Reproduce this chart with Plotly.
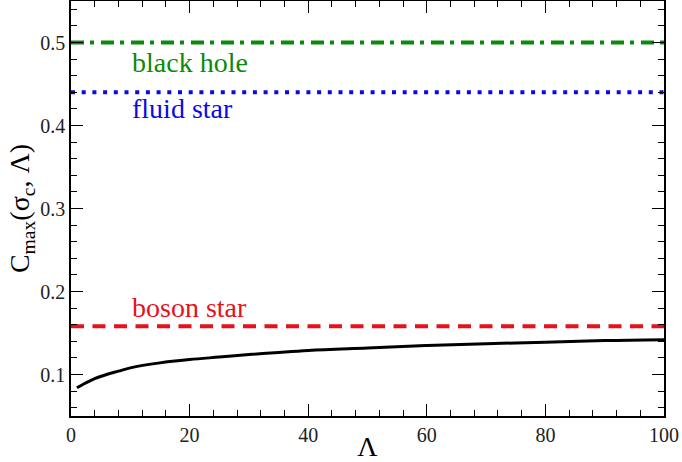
import plotly.graph_objects as go

# Data
lam = [1, 2, 4, 6, 8, 10, 15, 20, 25, 30, 40, 50, 60, 70, 80, 90, 100]
cmax = [0.084, 0.088, 0.095, 0.100, 0.104, 0.108, 0.114, 0.118, 0.121, 0.124,
        0.129, 0.132, 0.135, 0.137, 0.139, 0.141, 0.142]

x_span = [0, 100]
black_hole = 0.5
fluid_star = 0.44
boson_star = 0.158

labels = ["black hole", "fluid star", "boson star"]
label_y = [0.476, 0.421, 0.181]
label_x = 10

GREEN = "#0a8a0a"
BLUE = "#0a0ae6"
RED = "#e8101a"
SERIF = "'Liberation Serif', 'Times New Roman', 'DejaVu Serif', serif"

fig = go.Figure()
fig.add_trace(go.Scatter(x=x_span, y=[black_hole] * 2, mode="lines",
                         line=dict(color=GREEN, width=4, dash="13px,6px,4px,7px")))
fig.add_trace(go.Scatter(x=x_span, y=[fluid_star] * 2, mode="lines",
                         line=dict(color=BLUE, width=4, dash="4px,6.7px")))
fig.add_trace(go.Scatter(x=x_span, y=[boson_star] * 2, mode="lines",
                         line=dict(color=RED, width=4, dash="13px,8.5px")))
fig.add_trace(go.Scatter(x=lam, y=cmax, mode="lines", line_shape="spline",
                         line=dict(color="black", width=3)))

for txt, yy, col in zip(labels, label_y, [GREEN, BLUE, RED]):
    fig.add_annotation(x=label_x, y=yy, text=txt, showarrow=False, xanchor="left",
                       yanchor="middle", font=dict(family=SERIF, size=28, color=col))

axis_common = dict(showline=True, linecolor="black", linewidth=1.5, mirror="allticks",
                   ticks="inside", ticklen=12, tickwidth=1.3, tickcolor="black",
                   showgrid=False, zeroline=False, automargin=False,
                   tickfont=dict(family=SERIF, size=20, color="#222"))

fig.update_xaxes(range=[0, 100], dtick=20, tick0=0,
                 minor=dict(dtick=4, ticks="inside", ticklen=6, tickcolor="black", tickwidth=1.3),
                 title=dict(text="Λ", font=dict(family=SERIF, size=28, color="black"),
                            standoff=3),
                 **axis_common)
fig.update_yaxes(range=[0.05, 0.55], dtick=0.1, tick0=0.1, tickformat=".1f",
                 minor=dict(dtick=0.02, ticks="inside", ticklen=6, tickcolor="black", tickwidth=1.3),
                 title=dict(text="C<sub>max</sub>(σ<sub>c</sub>, Λ)",
                            font=dict(family=SERIF, size=28, color="black"),
                            standoff=2),
                 **axis_common)

fig.update_layout(width=682, height=462, showlegend=False,
                  plot_bgcolor="white", paper_bgcolor="white",
                  margin=dict(l=71, r=18, t=1, b=46, autoexpand=False))

fig.write_html("out.html", config={"displayModeBar": False},
               post_script="document.body.style.margin='0';")
